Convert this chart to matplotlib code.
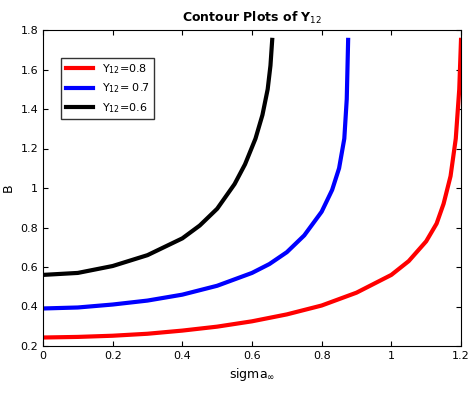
import matplotlib
matplotlib.use("Agg")
import matplotlib.pyplot as plt

red_x = [0, 0.1, 0.2, 0.3, 0.4, 0.5, 0.6, 0.7, 0.8, 0.9, 1.0, 1.05, 1.1, 1.13, 1.15, 1.17, 1.185, 1.195, 1.2]
red_y = [0.243, 0.246, 0.252, 0.262, 0.278, 0.298, 0.325, 0.36, 0.405, 0.47, 0.56, 0.63, 0.73, 0.82, 0.92, 1.06, 1.25, 1.5, 1.75]
blue_x = [0, 0.1, 0.2, 0.3, 0.4, 0.5, 0.6, 0.65, 0.7, 0.75, 0.8, 0.83, 0.85, 0.865, 0.872, 0.876]
blue_y = [0.39, 0.395, 0.41, 0.43, 0.46, 0.505, 0.57, 0.615, 0.675, 0.76, 0.88, 0.99, 1.1, 1.25, 1.45, 1.75]
black_x = [0, 0.1, 0.2, 0.3, 0.4, 0.45, 0.5, 0.55, 0.58, 0.61, 0.63, 0.645, 0.653, 0.658]
black_y = [0.56, 0.57, 0.605, 0.66, 0.745, 0.81, 0.895, 1.02, 1.12, 1.25, 1.37, 1.5, 1.62, 1.75]
labels = ['Y$_{12}$=0.8', 'Y$_{12}$= 0.7', 'Y$_{12}$=0.6']

fig = plt.figure(figsize=(4.74, 4.0), dpi=100)
ax = fig.add_axes([43/474, 1-346/400, (461-43)/474, (346-30)/400])
ax.plot(red_x, red_y, color='#ff0000', lw=3, label=labels[0])
ax.plot(blue_x, blue_y, color='#0000ff', lw=3, label=labels[1])
ax.plot(black_x, black_y, color='black', lw=3, label=labels[2])
ax.set_xlim(0, 1.2)
ax.set_ylim(0.2, 1.8)
ax.set_xticks([0, 0.2, 0.4, 0.6, 0.8, 1, 1.2])
ax.set_xticklabels(['0', '0.2', '0.4', '0.6', '0.8', '1', '1.2'])
ax.set_yticks([0.2, 0.4, 0.6, 0.8, 1, 1.2, 1.4, 1.6, 1.8])
ax.set_yticklabels(['0.2', '0.4', '0.6', '0.8', '1', '1.2', '1.4', '1.6', '1.8'])
ax.tick_params(direction='in', labelsize=8, top=True, right=True)
ax.set_xlabel('sigma$_{\\infty}$', fontsize=9)
ax.set_ylabel('B', fontsize=9)
ax.set_title('Contour Plots of Y$_{12}$', fontsize=9, fontweight='bold')
ax.legend(loc='upper left', bbox_to_anchor=(0.03, 0.93), fontsize=8, frameon=True,
          fancybox=False, edgecolor='black', handlelength=2.5)
fig.savefig('out.png', dpi=100)
